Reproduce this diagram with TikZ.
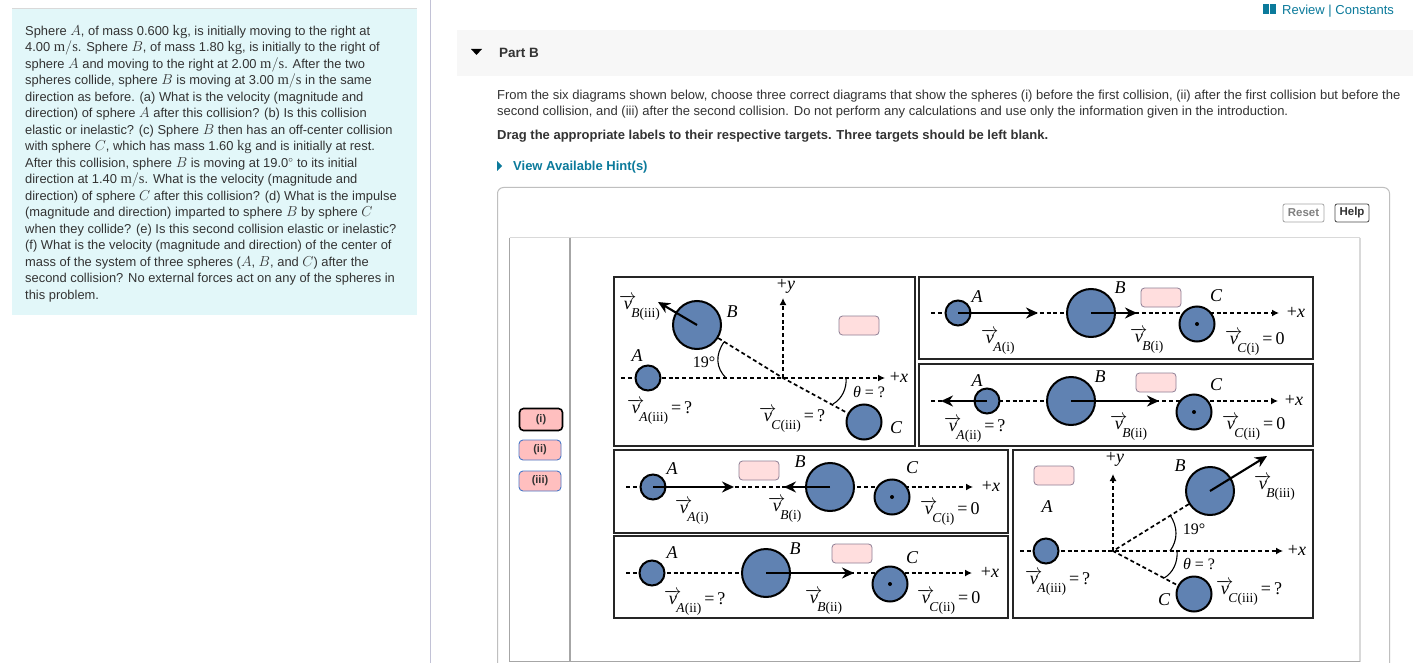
\documentclass[tikz,border=0pt]{standalone}
\usepackage{fontspec}
\setmainfont{Liberation Sans}
\setmathrm{Liberation Serif}
\newfontfamily\figfont{Liberation Serif}
\usetikzlibrary{arrows.meta}
\definecolor{ballblue}{HTML}{6082B2}
\definecolor{panelink}{HTML}{252525}
\definecolor{targetpink}{HTML}{FFDEDE}
\definecolor{targetedge}{HTML}{8F8096}
\definecolor{labelpink}{HTML}{FFBFBF}
\definecolor{labelblue}{HTML}{4A78C8}
\definecolor{linkteal}{HTML}{0B7A9B}
\definecolor{introcyan}{HTML}{E2F7F9}
\definecolor{bodygrey}{HTML}{333333}
\newcommand{\vlab}[2]{\(\overrightarrow{\mbox{\itshape v}}\)\kern-5pt\raisebox{-1ex}{\fontsize{13.5}{13.5}\selectfont\textit{#1}(#2)}}
\newcommand{\mth}[1]{{\fontsize{14.6}{16.5}\selectfont\(#1\)}}
\tikzset{
	sphere/.style={circle,draw=black,line width=2pt,fill=ballblue,inner sep=0pt},
	smallball/.style={sphere,minimum size=25pt},
	bigball/.style={sphere,minimum size=48pt},
	midball/.style={sphere,minimum size=35pt},
	panel/.style={draw=panelink,line width=1.5pt},
	axisline/.style={line width=1.7pt,dash pattern=on 4pt off 2.8pt,-{Latex[length=7pt,width=7pt]}},
	legline/.style={line width=1.7pt,dash pattern=on 4pt off 2.8pt},
	velarrow/.style={line width=2.1pt,-{Stealth[length=12pt,width=11pt]}},
	anglearc/.style={line width=1.1pt},
	target/.style={draw=targetedge,line width=0.8pt,fill=targetpink,rounded corners=3.5pt,minimum width=40pt,minimum height=19pt,inner sep=0pt},
	tag/.style={font=\fontsize{11}{12}\selectfont\bfseries,text=bodygrey,fill=labelpink,rounded corners=4pt,minimum width=42pt,minimum height=20pt,inner sep=0pt},
	letter/.style={font=\figfont\itshape\fontsize{18}{18}\selectfont,inner sep=0pt},
	figtext/.style={font=\figfont\fontsize{18}{18}\selectfont,inner sep=0pt},
	anglelabel/.style={font=\figfont\fontsize{16}{16}\selectfont,inner sep=0pt},
	vlabel/.style={font=\figfont\fontsize{18}{18}\selectfont,inner sep=0pt,anchor=base west},
}
\begin{document}
\begin{tikzpicture}[x=1pt,y=-1pt]
	\useasboundingbox (0,0) rectangle (1426,663);
	\fill[white] (0,0) rectangle (1426,663);

	\draw[color=blue!20!gray!40,line width=1pt] (430,0) -- (430,663);
	\fill[introcyan] (12,9) rectangle (417,315);
	\draw[color=gray!30,line width=0.8pt] (12,8.5) -- (417,8.5);
	\node (intro) [anchor=north west,align=left,inner sep=0pt,text=bodygrey,font=\fontsize{12.9}{16.5}\selectfont] at (25,25) {Sphere \mth{A}, of mass 0.600 \mth{\mathrm{kg}}, is initially moving to the right at\\4.00 \mth{\mathrm{m/s}}. Sphere \mth{B}, of mass 1.80 \mth{\mathrm{kg}}, is initially to the right of\\sphere \mth{A} and moving to the right at 2.00 \mth{\mathrm{m/s}}. After the two\\spheres collide, sphere \mth{B} is moving at 3.00 \mth{\mathrm{m/s}} in the same\\direction as before. (a) What is the velocity (magnitude and\\direction) of sphere \mth{A} after this collision? (b) Is this collision\\elastic or inelastic? (c) Sphere \mth{B} then has an off-center collision\\with sphere \mth{C}, which has mass 1.60 \mth{\mathrm{kg}} and is initially at rest.\\After this collision, sphere \mth{B} is moving at 19.0\(^\circ\) to its initial\\direction at 1.40 \mth{\mathrm{m/s}}. What is the velocity (magnitude and\\direction) of sphere \mth{C} after this collision? (d) What is the impulse\\(magnitude and direction) imparted to sphere \mth{B} by sphere \mth{C}\\when they collide? (e) Is this second collision elastic or inelastic?\\(f) What is the velocity (magnitude and direction) of the center of\\mass of the system of three spheres (\mth{A}, \mth{B}, and \mth{C}) after the\\second collision? No external forces act on any of the spheres in\\this problem.};

	\fill[linkteal] (1263,4) rectangle ++(6,10);
	\fill[linkteal] (1270,4) rectangle ++(6,10);
	\node (review) [anchor=west,inner sep=0pt,text=linkteal,font=\fontsize{13}{14}\selectfont] at (1282,11) {Review | Constants};
	\fill[black!3] (457,30) rectangle (1413,76);
	\fill[black] (471,49) -- (482,49) -- (476.5,55) -- cycle;
	\node (partb) [anchor=west,inner sep=0pt,text=bodygrey,font=\fontsize{13.5}{14}\selectfont\bfseries] at (499,53) {Part B};
	\node (ask) [anchor=north west,align=left,inner sep=0pt,text=bodygrey,font=\fontsize{13}{16.4}\selectfont] at (497,89.5) {From the six diagrams shown below, choose three correct diagrams that show the spheres (i) before the first collision, (ii) after the first collision but before the\\second collision, and (iii) after the second collision. Do not perform any calculations and use only the information given in the introduction.};
	\node (drag) [anchor=west,inner sep=0pt,text=bodygrey,font=\fontsize{13}{14}\selectfont\bfseries] at (497,136.5) {Drag the appropriate labels to their respective targets. Three targets should be left blank.};
	\fill[linkteal] (497,161) -- (502,166) -- (497,171) -- cycle;
	\node (hint) [anchor=west,inner sep=0pt,text=linkteal,font=\fontsize{13}{14}\selectfont\bfseries] at (513,167.5) {View Available Hint(s)};

	\draw[color=gray!50,line width=1pt,rounded corners=6pt] (497.5,670) -- (497.5,187.5) -- (1389.5,187.5) -- (1389.5,670);
	\node (reset) [draw=gray!70,line width=0.8pt,rounded corners=2pt,minimum width=41pt,minimum height=18pt,inner sep=0pt,text=gray,font=\fontsize{11.5}{13}\selectfont\bfseries] at (1303.5,213) {\raisebox{-3pt}{Reset}};
	\node (help) [draw=black!70,line width=0.8pt,rounded corners=2pt,minimum width=34pt,minimum height=18pt,inner sep=0pt,text=bodygrey,font=\fontsize{11.5}{13}\selectfont\bfseries] at (1352,213) {\raisebox{-3pt}{Help}};

	\draw[color=gray!30,line width=1pt] (509.5,237.5) -- (1360,237.5);
	\draw[color=gray!30,line width=2pt] (1360,237.5) -- (1360,662);
	\draw[color=gray!70,line width=1pt] (509.5,237.5) -- (509.5,661.5) -- (1360,661.5);
	\draw[color=gray!70,line width=1.5pt] (570,237.5) -- (570,661);

	\node (tagi) [tag,draw=black,line width=1.6pt,minimum width=43pt,minimum height=22pt] at (541,419.5) {(i)};
	\node (tagii) [tag,draw=labelblue,line width=0.9pt] at (540,450) {(ii)};
	\node (tagiii) [tag,draw=labelblue,line width=0.9pt] at (540,481) {(iii)};

	\draw[panel] (614,277) rectangle (915,446);
	\draw[panel] (919,277) rectangle (1313,359);
	\draw[panel] (919,364) rectangle (1313,446);
	\draw[panel] (614,450) rectangle (1008,533);
	\draw[panel] (614,536) rectangle (1008,618);
	\draw[panel] (1013,450) rectangle (1313,618);

	\coordinate (axisL1) at (621,378);
	\coordinate (axisR1) at (885,378);
	\coordinate (orig1) at (783,378);
	\coordinate (axisT1) at (783,298);
	\coordinate (tipB1) at (658,302);
	\draw[axisline] (axisL1) -- (axisR1);
	\draw[axisline] (orig1) -- (axisT1);
	\node (sA1) [smallball] at (648,378) {};
	\node (sB1) [bigball] at (697,325) {};
	\node (sC1) [midball] at (864,422) {};
	\draw[legline] (sB1) -- (orig1) -- (sC1);
	\draw[anglearc] (724,342) .. controls (715,355) and (716,368) .. (726,378);
	\draw[anglearc] (846,378) .. controls (847,388) and (842,399) .. (833,404);
	\draw[velarrow] (sB1.center) -- (tipB1);
	\node (yl1) [figtext] at (786,286) {+\textit{y}};
	\node (xl1) [figtext] at (899,377) {+\textit{x}};
	\node (la1) [letter] at (637,356) {A};
	\node (lb1) [letter] at (732,312) {B};
	\node (lc1) [letter] at (896,428) {C};
	\node (ang1) [anglelabel] at (704,362) {19°};
	\node (th1) [anglelabel] at (869,392) {\textit{θ} = ?};
	\node (va1) [vlabel] at (627,413) {\vlab{A}{iii}\kern3pt=\kern3pt?};
	\node (vb1) [vlabel] at (619,309) {\vlab{B}{iii}};
	\node (vc1) [vlabel] at (759,421) {\vlab{C}{iii}\kern3pt=\kern3pt?};
	\node (tgt1) [target] at (859,325.5) {};

	\coordinate (axisL2) at (931,313);
	\coordinate (axisR2) at (1279,313);
	\coordinate (tipA2) at (1038,313);
	\coordinate (tipB2) at (1137,313);
	\draw[axisline] (axisL2) -- (axisR2);
	\node (sA2) [smallball] at (958,313) {};
	\node (sB2) [bigball] at (1091,313) {};
	\node (sC2) [midball] at (1197,324) {};
	\fill (sC2) circle (2pt);
	\draw[velarrow] (sA2.center) -- (tipA2);
	\draw[velarrow] (sB2.center) -- (tipB2);
	\node (xl2) [figtext] at (1296,312) {+\textit{x}};
	\node (la2) [letter] at (977,297) {A};
	\node (lb2) [letter] at (1120,288) {B};
	\node (lc2) [letter] at (1216,296) {C};
	\node (va2) [vlabel] at (981,343) {\vlab{A}{i}};
	\node (vb2) [vlabel] at (1130,342) {\vlab{B}{i}};
	\node (vc2) [vlabel] at (1225,344) {\vlab{C}{i}\kern3pt=\kern3pt0};
	\node (tgt2) [target] at (1161,297.5) {};

	\coordinate (axisL3) at (931,401);
	\coordinate (axisR3) at (1278,401);
	\coordinate (tipA3) at (941,401);
	\coordinate (tipB3) at (1159,401);
	\draw[axisline] (axisL3) -- (axisR3);
	\node (sA3) [smallball] at (987,401) {};
	\node (sB3) [bigball] at (1071,401) {};
	\node (sC3) [midball] at (1194,412) {};
	\fill (sC3) circle (2pt);
	\draw[velarrow] (sA3.center) -- (tipA3);
	\draw[velarrow] (sB3.center) -- (tipB3);
	\node (xl3) [figtext] at (1294,400) {+\textit{x}};
	\node (la3) [letter] at (977,381) {A};
	\node (lb3) [letter] at (1100,377) {B};
	\node (lc3) [letter] at (1216,385) {C};
	\node (va3) [vlabel] at (944,431) {\vlab{A}{ii}\kern3pt=\kern3pt?};
	\node (vb3) [vlabel] at (1110,429) {\vlab{B}{ii}};
	\node (vc3) [vlabel] at (1222,429) {\vlab{C}{ii}\kern3pt=\kern3pt0};
	\node (tgt3) [target] at (1156,382.5) {};

	\coordinate (axisL4) at (626,487);
	\coordinate (axisR4) at (973,487);
	\coordinate (tipA4) at (734,487);
	\coordinate (tipB4) at (784,487);
	\draw[axisline] (axisL4) -- (axisR4);
	\node (sA4) [smallball] at (653,487) {};
	\node (sB4) [bigball] at (830,487) {};
	\node (sC4) [midball] at (892,497) {};
	\fill (sC4) circle (2pt);
	\draw[velarrow] (sA4.center) -- (tipA4);
	\draw[velarrow] (sB4.center) -- (tipB4);
	\node (xl4) [figtext] at (991,486) {+\textit{x}};
	\node (la4) [letter] at (672,469) {A};
	\node (lb4) [letter] at (800,462) {B};
	\node (lc4) [letter] at (912,468) {C};
	\node (va4) [vlabel] at (675,513) {\vlab{A}{i}};
	\node (vb4) [vlabel] at (768,511) {\vlab{B}{i}};
	\node (vc4) [vlabel] at (920,514) {\vlab{C}{i}\kern3pt=\kern3pt0};
	\node (tgt4) [target] at (759,470.5) {};

	\coordinate (axisL5) at (626,573);
	\coordinate (axisR5) at (972,573);
	\coordinate (tipB5) at (854,573);
	\draw[axisline] (axisL5) -- (axisR5);
	\node (sA5) [smallball] at (652,573) {};
	\node (sB5) [bigball] at (766,573) {};
	\node (sC5) [midball] at (890,584) {};
	\fill (sC5) circle (2pt);
	\draw[velarrow] (sB5.center) -- (tipB5);
	\node (xl5) [figtext] at (990,572) {+\textit{x}};
	\node (la5) [letter] at (672,553) {A};
	\node (lb5) [letter] at (795,549) {B};
	\node (lc5) [letter] at (912,558) {C};
	\node (va5) [vlabel] at (664,604) {\vlab{A}{ii}\kern3pt=\kern3pt?};
	\node (vb5) [vlabel] at (805,603) {\vlab{B}{ii}};
	\node (vc5) [vlabel] at (917,603) {\vlab{C}{ii}\kern3pt=\kern3pt0};
	\node (tgt5) [target] at (852,553.5) {};

	\coordinate (axisL6) at (1020,551);
	\coordinate (axisR6) at (1283,551);
	\coordinate (orig6) at (1113,551);
	\coordinate (axisT6) at (1113,474);
	\coordinate (tipB6) at (1267,456);
	\draw[axisline] (axisL6) -- (axisR6);
	\draw[axisline] (orig6) -- (axisT6);
	\node (sA6) [smallball] at (1046,551) {};
	\node (sB6) [bigball] at (1210,491) {};
	\node (sC6) [midball] at (1194,594) {};
	\draw[legline] (sB6) -- (orig6) -- (sC6);
	\draw[anglearc] (1170,515) .. controls (1178,527) and (1178,540) .. (1170,551);
	\draw[anglearc] (1177,551) .. controls (1178,562) and (1173,573) .. (1164,578);
	\draw[velarrow] (sB6.center) -- (tipB6);
	\node (yl6) [figtext] at (1115,459) {+\textit{y}};
	\node (xl6) [figtext] at (1297,550) {+\textit{x}};
	\node (la6) [letter] at (1047,507) {A};
	\node (lb6) [letter] at (1180,466) {B};
	\node (lc6) [letter] at (1164,600) {C};
	\node (ang6) [anglelabel] at (1194,529) {19°};
	\node (th6) [anglelabel] at (1199,564) {\textit{θ} = ?};
	\node (va6) [vlabel] at (1025,584) {\vlab{A}{iii}\kern3pt=\kern3pt?};
	\node (vb6) [vlabel] at (1254,489) {\vlab{B}{iii}};
	\node (vc6) [vlabel] at (1216,594) {\vlab{C}{iii}\kern3pt=\kern3pt?};
	\node (tgt6) [target] at (1054,475.5) {};
\end{tikzpicture}
\end{document}
